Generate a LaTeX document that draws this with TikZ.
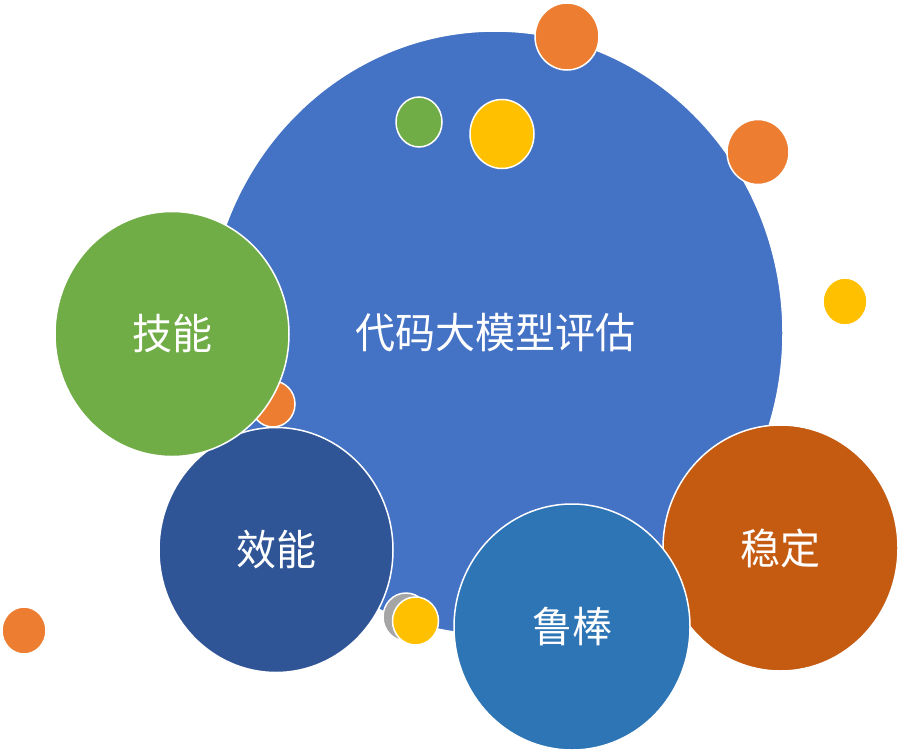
\documentclass[tikz,border=0pt]{standalone}
\usepackage{fontspec}
\newfontfamily\cjk{Noto Sans CJK SC}
\usetikzlibrary{shapes.geometric}
\definecolor{cBlue}{HTML}{4472C4}
\definecolor{cOrange}{HTML}{ED7D31}
\definecolor{cYellow}{HTML}{FFC000}
\definecolor{cGreen}{HTML}{70AD47}
\definecolor{cGray}{HTML}{A5A5A5}
\definecolor{cDark}{HTML}{2F5597}
\definecolor{cMid}{HTML}{2E75B6}
\definecolor{cRust}{HTML}{C55A11}
\tikzset{
  bub/.style={ellipse, draw=white, line width=1.5pt, inner sep=0pt, text=white,
    font=\cjk\fontsize{40}{40}\selectfont},
  sz/.style 2 args={minimum width=#1pt, minimum height=#2pt}
}
\newcommand{\yst}[1]{\scalebox{1}[1.05]{#1}}
\begin{document}
\begin{tikzpicture}[x=1pt,y=-1pt]
\useasboundingbox (0,0) rectangle (900,752);
\node[bub, fill=cBlue, sz={576}{604}] (main) at (495,333) {\yst{代码大模型评估}};
\node[bub, fill=cOrange, sz={64}{67}] (o1) at (567,36.5) {};
\node[bub, fill=cGreen, sz={46}{50}] (g1) at (419,122) {};
\node[bub, fill=cYellow, sz={64}{69}] (y1) at (502,134) {};
\node[bub, fill=cOrange, sz={62}{65}] (o2) at (758,152) {};
\node[bub, fill=cYellow, sz={44}{47}] (y2) at (845,301.5) {};
\node[bub, fill=cOrange, sz={44}{46}] (o3) at (273,404) {};
\node[bub, fill=cGray, sz={46}{48}] (gr) at (406,617) {};
\node[bub, fill=cYellow, sz={46}{48}] (y3) at (415.5,621) {};
\node[bub, fill=cOrange, sz={44}{47}] (o4) at (24,630.5) {};
\node[bub, fill=cDark, sz={234}{245}] (xiao) at (276,550) {\yst{效能}};
\node[bub, fill=cGreen, sz={234}{245}] (ji) at (172,334) {\yst{技能}};
\node[bub, fill=cRust, sz={235}{246}] (wen) at (780.5,548) {\yst{稳定}};
\node[bub, fill=cMid, sz={236}{246}] (lu) at (572,627) {\yst{鲁棒}};
\end{tikzpicture}
\end{document}
